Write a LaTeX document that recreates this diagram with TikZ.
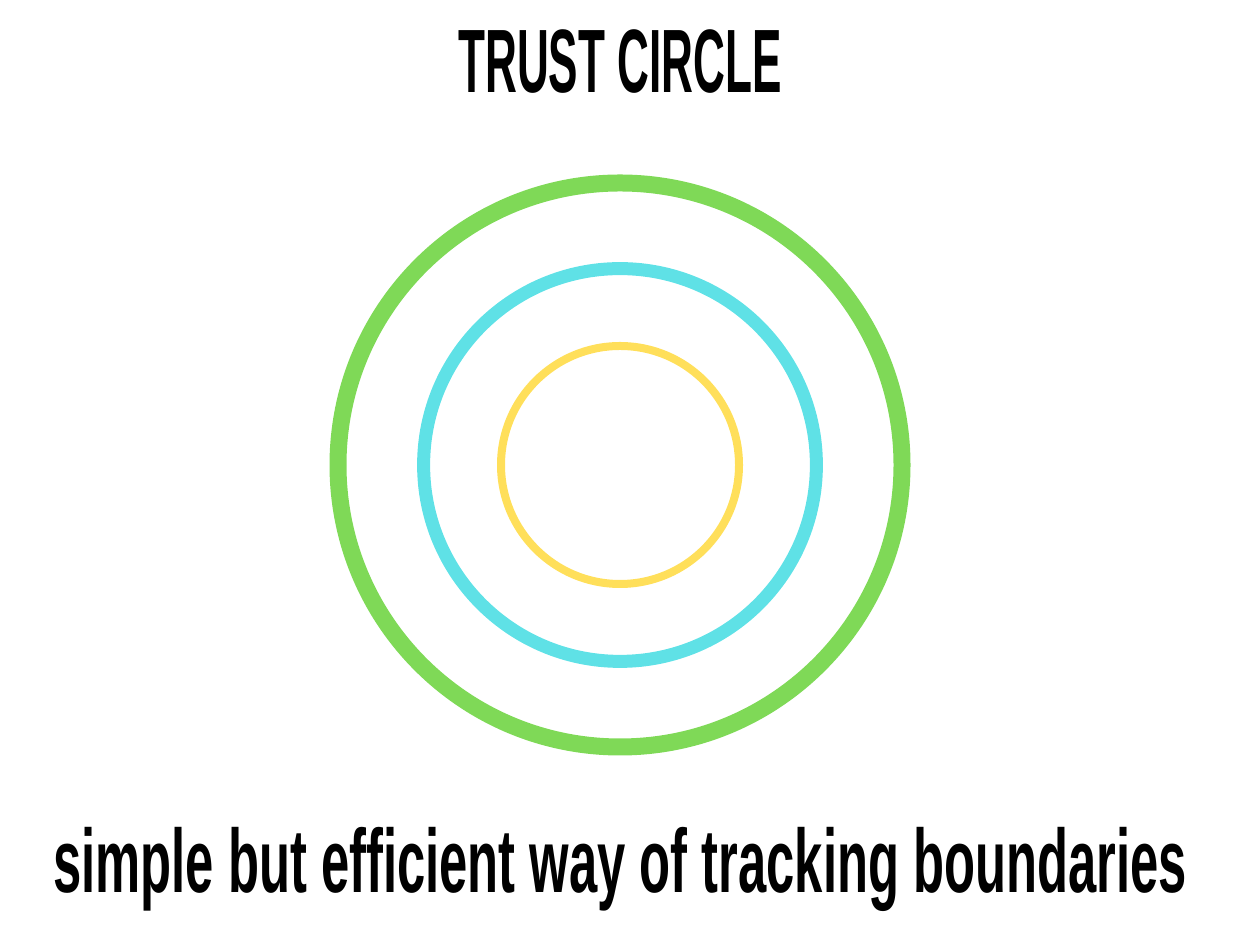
\documentclass[tikz,border=0pt]{standalone}
\usepackage{fontspec}
\setmainfont{Liberation Sans}
\usepackage{tikz}
\definecolor{ringgreen}{HTML}{7FD957}
\definecolor{ringcyan}{HTML}{5FE1E6}
\definecolor{ringyellow}{HTML}{FFDF5A}
\tikzstyle{ring}=[draw,fill=none]
\tikzstyle{outer ring}=[ring,draw=ringgreen,line width=0.425cm]
\tikzstyle{middle ring}=[ring,draw=ringcyan,line width=0.325cm]
\tikzstyle{inner ring}=[ring,draw=ringyellow,line width=0.2cm]
\tikzstyle{heading}=[anchor=base,inner sep=0pt,font=\bfseries\fontsize{64}{64}\selectfont]
\begin{document}
\begin{tikzpicture}
        \useasboundingbox (0,0) rectangle (31,23.25);
        \coordinate (o) at (15.5,11.625);
        \draw[outer ring] (o) circle (7.05);
        \draw[middle ring] (o) circle (4.91);
        \draw[inner ring] (o) circle (2.975);
        \node[heading,xscale=0.49] (title) at (15.5,20.925) {TRUST CIRCLE};
        \node[heading,xscale=0.564] (caption) at (15.5,0.925) {simple but efficient way of tracking boundaries};
\end{tikzpicture}
\end{document}
